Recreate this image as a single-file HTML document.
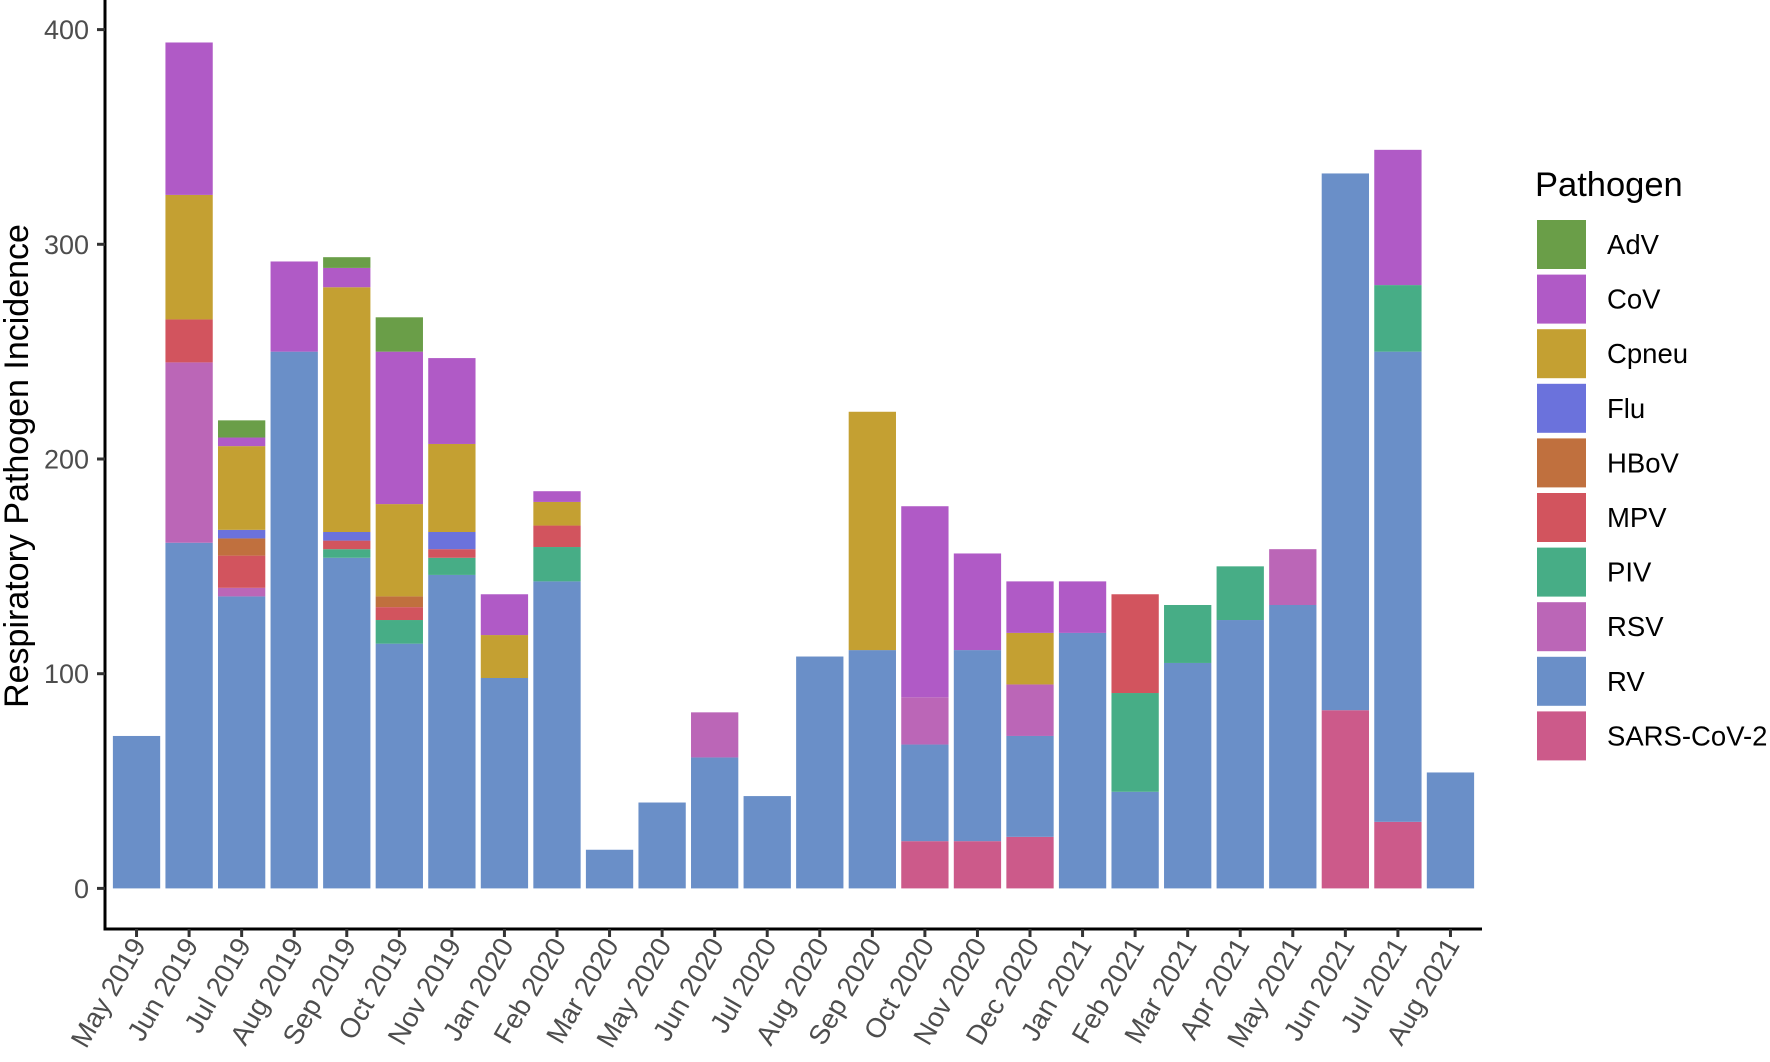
<!DOCTYPE html>
<html><head><meta charset="utf-8"><style>
html,body{margin:0;padding:0;background:#fff}
svg{display:block;font-family:"Liberation Sans",Arial,sans-serif}
</style></head><body>
<svg id="chart" width="1770" height="1062" viewBox="0 0 1770 1062">
<g id="bars"></g>
<g id="axes"></g>
<g id="legend"></g>
</svg>
<script>
const categories = ["May 2019","Jun 2019","Jul 2019","Aug 2019","Sep 2019","Oct 2019","Nov 2019","Jan 2020","Feb 2020","Mar 2020","May 2020","Jun 2020","Jul 2020","Aug 2020","Sep 2020","Oct 2020","Nov 2020","Dec 2020","Jan 2021","Feb 2021","Mar 2021","Apr 2021","May 2021","Jun 2021","Jul 2021","Aug 2021"];
const pathogens = ["AdV","CoV","Cpneu","Flu","HBoV","MPV","PIV","RSV","RV","SARS-CoV-2"];
const colors = ["#6a9e48","#b05ac6","#c4a032","#6b72dc","#c0703e","#d2545e","#47ad86","#bb66b7","#6a8fc8","#cc5a8a"];
// values per pathogen, per category
const sars  = [0,0,0,0,0,0,0,0,0,0,0,0,0,0,0,22,22,24,0,0,0,0,0,83,31,0];
const rv    = [71,161,136,250,154,114,146,98,143,18,40,61,43,108,111,45,89,47,119,45,105,125,132,250,219,54];
const rsv   = [0,84,4,0,0,0,0,0,0,0,0,21,0,0,0,22,0,24,0,0,0,0,26,0,0,0];
const piv   = [0,0,0,0,4,11,8,0,16,0,0,0,0,0,0,0,0,0,0,46,27,25,0,0,31,0];
const mpv   = [0,20,15,0,4,6,4,0,10,0,0,0,0,0,0,0,0,0,0,46,0,0,0,0,0,0];
const hbov  = [0,0,8,0,0,5,0,0,0,0,0,0,0,0,0,0,0,0,0,0,0,0,0,0,0,0];
const flu   = [0,0,4,0,4,0,8,0,0,0,0,0,0,0,0,0,0,0,0,0,0,0,0,0,0,0];
const cpneu = [0,58,39,0,114,43,41,20,11,0,0,0,0,0,111,0,0,24,0,0,0,0,0,0,0,0];
const cov   = [0,71,4,42,9,71,40,19,5,0,0,0,0,0,0,89,45,24,24,0,0,0,0,0,63,0];
const adv   = [0,0,8,0,5,16,0,0,0,0,0,0,0,0,0,0,0,0,0,0,0,0,0,0,0,0];
const yTicks = [0,100,200,300,400];

const NS="http://www.w3.org/2000/svg";
function mk(tag,attrs,parent){const e=document.createElementNS(NS,tag);for(const k in attrs)e.setAttribute(k,attrs[k]);parent.appendChild(e);return e;}
const axL=105, axR=1482, axB=929, step=(axR-axL)/(categories.length+0.2);
const xPos=i=>axL+(0.6+i)*step;
const yPos=v=>888.4-v*2.147;
const bw=step*0.9;
const bars=document.getElementById('bars');
const stackOrder=[["SARS-CoV-2",sars],["RV",rv],["RSV",rsv],["PIV",piv],["MPV",mpv],["HBoV",hbov],["Flu",flu],["Cpneu",cpneu],["CoV",cov],["AdV",adv]];
categories.forEach((c,i)=>{
  let base=0;
  stackOrder.forEach(([name,arr])=>{
    const v=arr[i]; if(!v) return;
    const r=mk('rect',{x:xPos(i)-bw/2,y:yPos(base+v),width:bw,height:yPos(base)-yPos(base+v),fill:colors[pathogens.indexOf(name)]},bars);
    
    
    base+=v;
  });
});
const ax=document.getElementById('axes');
let l=mk('line',{x1:axL,y1:0,x2:axL,y2:axB+1.5,stroke:'#000','stroke-width':3},ax);


l=mk('line',{x1:axL-1.5,y1:axB,x2:axR,y2:axB,stroke:'#000','stroke-width':3},ax);


yTicks.forEach(v=>{
  const y=yPos(v);
  mk('line',{x1:axL-8,y1:y,x2:axL,y2:y,stroke:'#333','stroke-width':3},ax);
  const t=mk('text',{x:89,y:y+9.5,'text-anchor':'end','font-size':27,fill:'#4d4d4d'},ax);
  t.textContent=v;
  
  
});
categories.forEach((c,i)=>{
  const x=xPos(i);
  mk('line',{x1:x,y1:axB,x2:x,y2:axB+8,stroke:'#333','stroke-width':3},ax);
  const t=mk('text',{x:x+10,y:945,'text-anchor':'end','font-size':27.5,fill:'#4d4d4d',transform:`rotate(-60 ${x+10} 945)`},ax);
  t.textContent=c;
  
  
});
const yt=mk('text',{x:0,y:0,'text-anchor':'middle','font-size':34,fill:'#000',transform:'translate(28 466) rotate(-90)'},ax);
yt.textContent='Respiratory Pathogen Incidence';


const lg=document.getElementById('legend');
const tt=mk('text',{x:1535,y:196,'font-size':34.5,fill:'#000'},lg);
tt.textContent='Pathogen';


pathogens.forEach((p,i)=>{
  const y=219+i*54.6;
  const r=mk('rect',{x:1536,y:y,width:51,height:51,fill:colors[i],stroke:'#fff','stroke-width':2},lg);
  
  
  const t=mk('text',{x:1607,y:y+35,'font-size':27.5,fill:'#000'},lg);
  t.textContent=p;
  
  
});
</script>
</body></html>
